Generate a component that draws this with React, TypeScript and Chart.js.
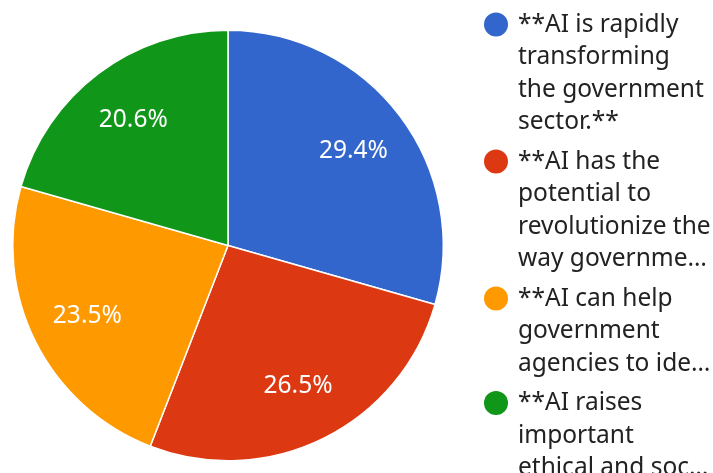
import React, { useEffect, useRef } from "react";
import { Chart, registerables } from "chart.js";

Chart.register(...registerables);

const categories: string[] = [
  "**AI is rapidly\ntransforming\nthe government\nsector.**",
  "**AI has the\npotential to\nrevolutionize the\nway governme…",
  "**AI can help\ngovernment\nagencies to ide…",
  "**AI raises\nimportant\nethical and soc…",
];
const values: number[] = [10, 9, 8, 7];
const colors: string[] = ["#3366CC", "#DC3912", "#FF9900", "#109618"];

const FONT = "'Noto Sans', sans-serif";

const pieLabels = {
  id: "pieLabels",
  afterDatasetsDraw(chart: any) {
    const ctx = chart.ctx;
    const meta = chart.getDatasetMeta(0);
    const data = chart.data.datasets[0].data as number[];
    const total = data.reduce((a, b) => a + b, 0);
    ctx.save();
    ctx.font = `24.5px ${FONT}`;
    ctx.fillStyle = "#ffffff";
    ctx.textAlign = "center";
    ctx.textBaseline = "middle";
    meta.data.forEach((arc: any, i: number) => {
      const { x, y, startAngle, endAngle, outerRadius } = arc.getProps(
        ["x", "y", "startAngle", "endAngle", "outerRadius"],
        true
      );
      const mid = (startAngle + endAngle) / 2;
      const r = outerRadius * 0.73;
      const pct = ((data[i] / total) * 100).toFixed(1) + "%";
      ctx.fillText(pct, x + Math.cos(mid) * r, y + Math.sin(mid) * r);
    });
    ctx.restore();
  },
};

const sideLegend = {
  id: "sideLegend",
  afterDraw(chart: any) {
    const ctx = chart.ctx;
    const labels = chart.data.labels as string[];
    const bg = chart.data.datasets[0].backgroundColor as string[];
    const lineH = 32.6;
    const itemGap = 6.6;
    const circleX = 496;
    const textX = 518;
    let lineCenter = 23;
    ctx.save();
    ctx.font = `24.5px ${FONT}`;
    ctx.textAlign = "left";
    ctx.textBaseline = "alphabetic";
    labels.forEach((lab, i) => {
      const lines = lab.split("\n");
      ctx.fillStyle = bg[i];
      ctx.beginPath();
      ctx.arc(circleX, lineCenter + 1.5, 12, 0, Math.PI * 2);
      ctx.fill();
      ctx.fillStyle = "#222222";
      lines.forEach((ln, k) => {
        ctx.fillText(ln, textX, lineCenter + 8.5 + k * lineH);
      });
      lineCenter += lines.length * lineH + itemGap;
    });
    ctx.restore();
  },
};

export default function App() {
  const ref = useRef<HTMLCanvasElement | null>(null);
  useEffect(() => {
    document.body.style.margin = "0";
    if (!ref.current) return;
    const chart = new Chart(ref.current, {
      type: "pie",
      data: {
        labels: categories,
        datasets: [
          {
            data: values,
            backgroundColor: colors,
            borderColor: "#ffffff",
            borderWidth: 1.5,
          },
        ],
      },
      options: {
        animation: false,
        responsive: false,
        layout: { padding: { left: 12, top: 29, bottom: 11, right: 269 } },
        plugins: {
          legend: { display: false },
          tooltip: { enabled: false },
        },
      },
      plugins: [pieLabels, sideLegend],
    });
    return () => chart.destroy();
  }, []);
  return (
    <div style={{ width: 713, height: 473, background: "#fff" }}>
      <canvas ref={ref} width={713} height={473} style={{ display: "block" }} />
    </div>
  );
}
